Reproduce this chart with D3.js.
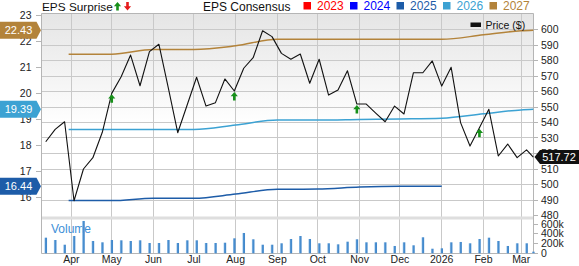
<!DOCTYPE html>
<html>
<head>
<meta charset="utf-8">
<script src="https://cdn.jsdelivr.net/npm/d3@7"></script>
<style>
  body { margin: 0; background: #fff; }
  svg { display: block; font-family: Arial, "Liberation Sans", sans-serif; }
</style>
</head>
<body>
<div id="chart"></div>
<script>
const parse = d3.timeParse('%Y-%m-%d');

// weekly closing prices, first one on priceStart, last one on priceEnd
const priceStart = '2025-03-13';
const priceEnd = '2026-03-10';
const prices = [527.6, 535.6, 540.5, 489.5, 510.0, 517.3, 533.7, 558.8, 569.5, 583.5,
  563.7, 585.7, 590.5, 562.3, 533.4, 551.3, 569.2, 550.6, 552.8, 568.1,
  560.3, 575.0, 581.8, 599.2, 595.4, 584.6, 580.8, 584.2, 565.3, 580.8,
  557.7, 561.0, 573.4, 551.9, 551.9, 546.1, 540.5, 550.6, 545.5, 572.1,
  572.1, 579.7, 563.5, 575.6, 539.9, 524.8, 536.6, 548.5, 518.4, 526.1,
  517.3, 522.3, 517.72];
// weekly volume, thousands
const volumes = [320, 272, 176, 354, 662, 252, 225, 272, 266, 252,
  266, 211, 211, 272, 211, 266, 266, 211, 211, 217,
  307, 416, 287, 176, 176, 205, 293, 354, 293, 205,
  205, 184, 238, 287, 225, 225, 225, 150, 225, 164,
  328, 94, 102, 225, 232, 205, 293, 320, 252, 150,
  205, 205, 33];

// EPS consensus by fiscal year
const epsDates = ['2025-03-30', '2025-05-01', '2025-06-01', '2025-07-01', '2025-08-01', '2025-09-01',
  '2025-10-01', '2025-11-01', '2025-12-01', '2026-01-01', '2026-02-01', '2026-03-01', '2026-03-10'];
const eps2027 = [21.51, 21.51, 21.69, 21.69, 21.83, 22.08, 22.08, 22.08, 22.08, 22.08, 22.25, 22.41, 22.43];
const eps2026 = [18.62, 18.62, 18.62, 18.62, 18.79, 18.98, 18.98, 19.00, 19.02, 19.05, 19.22, 19.37, 19.39];
const eps2025 = [15.89, 15.89, 15.98, 15.98, 16.14, 16.32, 16.33, 16.41, 16.44, 16.44];

const surpriseDates = ['2025-05-01', '2025-07-31', '2025-10-30', '2026-01-29'];

const legendYears = ['2023', '2024', '2025', '2026', '2027'];
const legendColors = ['#ff0000', '#0000ff', '#1d5ca8', '#3ca2d3', '#b3833a'];

const monthTicks = ['2025-04-01', '2025-05-01', '2025-06-01', '2025-07-01', '2025-08-01', '2025-09-01',
  '2025-10-01', '2025-11-01', '2025-12-01', '2026-01-01', '2026-02-01', '2026-03-01'];
const epsTicks = [16, 17, 18, 19, 20, 21, 22, 23];
const priceTicks = [480, 490, 500, 510, 520, 530, 540, 550, 560, 570, 580, 590, 600];
const volTicks = [0, 200, 400, 600];

const W = 579, H = 266;
const L = 41.5, R = 533.5, T = 13.5, mainBot = 216.5, volTop = 219.5, volBot = 253.5;
const gridColor = '#c9c9c9';

const svg = d3.select('#chart').append('svg').attr('width', W).attr('height', H);

const x = d3.scaleTime().domain([parse('2025-03-10'), parse('2026-03-10')]).range([41.7, 533.3]);
const yP = d3.scaleLinear().domain([480, 600]).range([215.5, 29.5]);
const yE = d3.scaleLinear().domain([16, 23]).range([197.7, 15.3]);
const yV = d3.scaleLinear().domain([0, 600]).range([253.3, 224]);
const crisp = v => Math.round(v - 0.5) + 0.5;

let priceDates = prices.map((p, i) => d3.timeDay.offset(parse(priceStart), 7 * i));
priceDates[priceDates.length - 1] = parse(priceEnd);

// background
let defs = svg.append('defs');
let bg = defs.append('linearGradient').attr('id', 'bgGrad')
  .attr('x1', 0).attr('y1', 0).attr('x2', 0).attr('y2', 1);
bg.append('stop').attr('offset', '0%').attr('stop-color', '#e5e5e5');
bg.append('stop').attr('offset', '55%').attr('stop-color', '#ffffff');
bg.append('stop').attr('offset', '100%').attr('stop-color', '#ffffff');
let vg = defs.append('linearGradient').attr('id', 'volGrad')
  .attr('x1', 0).attr('y1', 0).attr('x2', 1).attr('y2', 0);
vg.append('stop').attr('offset', '0%').attr('stop-color', '#a9cdee');
vg.append('stop').attr('offset', '40%').attr('stop-color', '#4b8fcf');
vg.append('stop').attr('offset', '100%').attr('stop-color', '#3f86cb');

svg.append('rect').attr('x', L).attr('y', T).attr('width', R - L).attr('height', mainBot - T)
  .attr('fill', 'url(#bgGrad)');

// grid
let grid = svg.append('g').attr('stroke', gridColor).attr('stroke-width', 1);
grid.selectAll('.hg').data(priceTicks.slice(1)).enter().append('line')
  .attr('x1', L).attr('x2', R)
  .attr('y1', d => crisp(yP(d))).attr('y2', d => crisp(yP(d)));
grid.selectAll('.vg').data(monthTicks).enter().append('line')
  .attr('x1', d => crisp(x(parse(d)))).attr('x2', d => crisp(x(parse(d))))
  .attr('y1', T).attr('y2', volBot);

svg.append('rect').attr('x', L).attr('y', mainBot).attr('width', R - L).attr('height', volTop - mainBot)
  .attr('fill', '#dedede');

// frame
let frame = svg.append('g').attr('stroke', '#b5b5b5').attr('fill', 'none');
frame.append('path').attr('d', `M${L},${T}H${R}V${volBot}H${L}Z`);

// left axis
let la = svg.append('g');
la.selectAll('line').data(epsTicks).enter().append('line')
  .attr('x1', 36).attr('x2', L).attr('y1', d => crisp(yE(d))).attr('y2', d => crisp(yE(d)))
  .attr('stroke', '#b5b5b5');
la.selectAll('text').data(epsTicks).enter().append('text')
  .attr('x', 31.5).attr('y', d => yE(d)).attr('dy', '0.35em')
  .attr('text-anchor', 'end').attr('font-size', 10.5).attr('fill', '#222').text(d => d);

// right axis
let ra = svg.append('g');
ra.selectAll('line').data(priceTicks).enter().append('line')
  .attr('x1', R).attr('x2', 538).attr('y1', d => crisp(yP(d))).attr('y2', d => crisp(yP(d)))
  .attr('stroke', '#b5b5b5');
ra.selectAll('text').data(priceTicks).enter().append('text')
  .attr('x', 541).attr('y', d => yP(d)).attr('dy', '0.35em')
  .attr('font-size', 10.5).attr('fill', '#222').text(d => d);
let va = svg.append('g');
va.selectAll('line').data(volTicks).enter().append('line')
  .attr('x1', R).attr('x2', 538).attr('y1', d => crisp(yV(d))).attr('y2', d => crisp(yV(d)))
  .attr('stroke', '#b5b5b5');
va.selectAll('text').data(volTicks).enter().append('text')
  .attr('x', 541).attr('y', d => yV(d)).attr('dy', '0.35em')
  .attr('font-size', 10.5).attr('fill', '#222').text(d => d === 0 ? '0' : d + 'k');

// month labels
svg.append('g').selectAll('text').data(monthTicks).enter().append('text')
  .attr('x', d => x(parse(d))).attr('y', 263)
  .attr('text-anchor', 'middle').attr('font-size', 10.5).attr('fill', '#222')
  .text(d => {
    let dt = parse(d);
    return dt.getMonth() === 0 ? d3.timeFormat('%Y')(dt) : d3.timeFormat('%b')(dt);
  });

// volume
svg.append('text').attr('x', 51).attr('y', 232.5).attr('font-size', 12).attr('fill', '#3d8fd8').text('Volume');
svg.append('g').selectAll('rect').data(volumes).enter().append('rect')
  .attr('x', (d, i) => x(priceDates[i]) - 1.3).attr('width', 2.6)
  .attr('y', d => yV(d)).attr('height', d => yV(0) - yV(d))
  .attr('fill', 'url(#volGrad)');

// EPS consensus lines
let epsLine = d3.line().curve(d3.curveMonotoneX)
  .x((d, i) => x(parse(epsDates[i]))).y(d => yE(d));
[[eps2025, legendColors[2]], [eps2026, legendColors[3]], [eps2027, legendColors[4]]].forEach(s => {
  svg.append('path').attr('d', epsLine(s[0])).attr('fill', 'none')
    .attr('stroke', s[1]).attr('stroke-width', 1.5);
});

// price line
let priceLine = d3.line().x((d, i) => x(priceDates[i])).y(d => yP(d));
svg.append('path').attr('d', priceLine(prices)).attr('fill', 'none')
  .attr('stroke', '#111').attr('stroke-width', 1.1).attr('stroke-linejoin', 'round');

// surprise arrows
function priceAt (dt) {
  let i = d3.bisector(d => d).left(priceDates, dt);
  if (+priceDates[i] === +dt) return prices[i];
  let d0 = priceDates[i - 1], d1 = priceDates[i];
  let t = (dt - d0) / (d1 - d0);
  return prices[i - 1] + (prices[i] - prices[i - 1]) * t;
}
function upArrow (cx, ty) {
  return `M${cx},${ty}L${cx + 3.6},${ty + 4.2}L${cx + 1.3},${ty + 4.2}L${cx + 1.3},${ty + 8.5}` +
    `L${cx - 1.3},${ty + 8.5}L${cx - 1.3},${ty + 4.2}L${cx - 3.6},${ty + 4.2}Z`;
}
function downArrow (cx, ty) {
  return `M${cx - 1.3},${ty}L${cx + 1.3},${ty}L${cx + 1.3},${ty + 4.3}L${cx + 3.6},${ty + 4.3}` +
    `L${cx},${ty + 8.5}L${cx - 3.6},${ty + 4.3}L${cx - 1.3},${ty + 4.3}Z`;
}
svg.append('g').selectAll('path').data(surpriseDates).enter().append('path')
  .attr('d', d => upArrow(x(parse(d)), yP(priceAt(parse(d))) + 1))
  .attr('fill', '#17901a');

// top legend
svg.append('text').attr('x', 42).attr('y', 10.5).attr('font-size', 11.8).attr('fill', '#111').text('EPS Surprise');
svg.append('path').attr('d', upArrow(117.5, 2)).attr('fill', '#17901a');
svg.append('path').attr('d', downArrow(127.5, 2)).attr('fill', '#e51b1b');
svg.append('text').attr('x', 203).attr('y', 10.5).attr('font-size', 12).attr('fill', '#111').text('EPS Consensus');
let lg = svg.append('g').selectAll('g').data(legendYears).enter().append('g')
  .attr('transform', (d, i) => `translate(${303.5 + i * 46.5},0)`);
lg.append('rect').attr('x', 0).attr('y', 2).attr('width', 7.5).attr('height', 7.5)
  .attr('fill', (d, i) => legendColors[i]);
lg.append('text').attr('x', 13.5).attr('y', 10.3).attr('font-size', 12)
  .attr('fill', (d, i) => legendColors[i]).text(d => d);

svg.append('rect').attr('x', 470.5).attr('y', 22.5).attr('width', 10.5).attr('height', 4.5).attr('fill', '#111');
svg.append('text').attr('x', 485.5).attr('y', 28.8).attr('font-size', 10.5).attr('fill', '#111').text('Price ($)');

// value badges
function leftBadge (val, color) {
  let y = yE(val);
  svg.append('path').attr('d', `M0,${y - 8.5}H36.5L41,${y}L36.5,${y + 8.5}H0Z`).attr('fill', color);
  svg.append('text').attr('x', 18.5).attr('y', y).attr('dy', '0.36em').attr('text-anchor', 'middle')
    .attr('font-size', 11).attr('fill', '#fff').text(val.toFixed(2));
}
leftBadge(eps2027[eps2027.length - 1], legendColors[4]);
leftBadge(eps2026[eps2026.length - 1], legendColors[3]);
leftBadge(eps2025[eps2025.length - 1], legendColors[2]);

let lastP = prices[prices.length - 1];
let ly = yP(lastP);
svg.append('path').attr('d', `M534.5,${ly}L540,${ly - 7}H579V${ly + 7}H540Z`).attr('fill', '#111');
svg.append('text').attr('x', 559).attr('y', ly).attr('dy', '0.36em').attr('text-anchor', 'middle')
  .attr('font-size', 11).attr('fill', '#fff').text(lastP.toFixed(2));
</script>
</body>
</html>
